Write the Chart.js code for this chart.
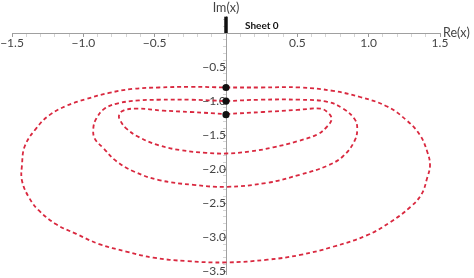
<!DOCTYPE html>
<html>
<head>
<meta charset="utf-8">
<script src="https://cdn.jsdelivr.net/npm/chart.js@4/dist/chart.umd.min.js"></script>
<style>
  html, body { margin: 0; padding: 0; background: #fff; }
  #wrap { width: 474px; height: 278px; position: relative; }
</style>
</head>
<body>
<div id="wrap"><canvas id="c"></canvas></div>
<script>
// ---- data ----
const outerRe = [0, 0.24, 0.52, 0.75, 0.94, 1.13, 1.27, 1.36, 1.41, 1.43, 1.41, 1.37, 1.29, 1.15, 0.99, 0.75, 0.52, 0.29, 0, -0.28, -0.51, -0.70, -0.89, -1.05, -1.19, -1.31, -1.38, -1.43, -1.43, -1.41, -1.33, -1.24, -1.12, -0.98, -0.82, -0.65, -0.47, -0.25, 0];
const outerIm = [-0.80, -0.80, -0.80, -0.85, -0.94, -1.08, -1.29, -1.50, -1.74, -1.94, -2.13, -2.37, -2.56, -2.78, -2.97, -3.14, -3.26, -3.33, -3.37, -3.35, -3.30, -3.21, -3.10, -2.95, -2.81, -2.61, -2.42, -2.17, -1.94, -1.66, -1.40, -1.21, -1.07, -0.97, -0.88, -0.82, -0.80, -0.79, -0.80];

const middleRe = [0, 0.24, 0.52, 0.71, 0.82, 0.90, 0.92, 0.90, 0.82, 0.71, 0.52, 0.29, 0, -0.23, -0.47, -0.65, -0.77, -0.86, -0.92, -0.93, -0.91, -0.85, -0.75, -0.61, -0.47, -0.25, 0];
const middleIm = [-1.00, -0.98, -0.98, -1.01, -1.11, -1.26, -1.40, -1.59, -1.81, -1.95, -2.08, -2.20, -2.26, -2.23, -2.16, -2.03, -1.88, -1.69, -1.55, -1.40, -1.26, -1.11, -1.03, -0.99, -0.98, -0.98, -1.00];

const innerRe = [0, 0.26, 0.50, 0.66, 0.71, 0.74, 0.71, 0.64, 0.50, 0.33, 0.17, 0, -0.14, -0.32, -0.47, -0.61, -0.70, -0.74, -0.75, -0.72, -0.63, -0.44, -0.25, 0];
const innerIm = [-1.19, -1.16, -1.13, -1.11, -1.16, -1.26, -1.37, -1.49, -1.59, -1.68, -1.74, -1.77, -1.76, -1.72, -1.65, -1.53, -1.40, -1.29, -1.21, -1.14, -1.11, -1.14, -1.16, -1.19];

const dotRe = [0, 0, 0];
const dotIm = [-0.80, -1.00, -1.20];

const sheetRe = [0, 0];
const sheetIm = [0, 0.24];

const xTickLabels = [-1.5, -1.0, -0.5, 0.5, 1.0, 1.5];
const yTickLabels = [-0.5, -1.0, -1.5, -2.0, -2.5, -3.0, -3.5];

const xLabel = 'Re(x)';
const yLabel = 'Im(x)';
const sheetLabel = 'Sheet 0';

// ---- helpers ----
const pts = (re, im) => re.map((r, i) => ({ x: r, y: im[i] }));
const fmt = v => (v < 0 ? '\u2212' : '') + Math.abs(v).toFixed(1);
const isMajor = (v, list) => list.some(t => Math.abs(t - v) < 1e-6);
const minorTicks = (lo, hi) => {
  const out = [];
  for (let k = Math.ceil(lo * 10 - 1e-6); k <= Math.floor(hi * 10 + 1e-6); k++) out.push({ value: k / 10 });
  return out;
};
const RED = '#d9283f';
const FONT = 'Lato, "Open Sans", "DejaVu Sans", sans-serif';

const curve = (label, re, im) => ({
  label, data: pts(re, im), showLine: true, borderColor: RED, borderWidth: 1.8,
  borderDash: [4, 3], pointRadius: 0, tension: 0.4, fill: false, order: 3
});

const labelsPlugin = {
  id: 'axisLabels',
  afterDraw(chart) {
    const { ctx, chartArea, scales } = chart;
    const x0 = scales.x.getPixelForValue(0);
    const y0 = scales.y.getPixelForValue(0);
    ctx.save();
    ctx.fillStyle = '#444';
    ctx.font = '12.5px ' + FONT;
    ctx.textBaseline = 'middle';
    ctx.textAlign = 'center';
    ctx.fillText(yLabel, x0, chartArea.top - 8);
    ctx.textAlign = 'left';
    ctx.fillText(xLabel, chartArea.right + 3, y0);
    ctx.fillStyle = '#111';
    ctx.font = 'bold 10px ' + FONT;
    ctx.fillText(sheetLabel, x0 + 19, y0 - 7);
    ctx.restore();
  }
};

const zeroFit = horiz => (s) => {
  if (horiz) s.height = 0; else s.width = 0;
  s.paddingLeft = s.paddingRight = s.paddingTop = s.paddingBottom = 0;
};

new Chart(document.getElementById('c'), {
  type: 'scatter',
  data: {
    datasets: [
      { label: 'poles', data: pts(dotRe, dotIm), pointRadius: 3.6, pointBackgroundColor: '#111', pointBorderColor: '#111', pointBorderWidth: 0, showLine: false, order: 1 },
      { label: 'sheet', data: pts(sheetRe, sheetIm), showLine: true, borderColor: '#111', borderWidth: 3.5, pointRadius: 0, order: 2 },
      curve('outer', outerRe, outerIm),
      curve('middle', middleRe, middleIm),
      curve('inner', innerRe, innerIm)
    ]
  },
  options: {
    responsive: true,
    maintainAspectRatio: false,
    animation: false,
    events: [],
    layout: { padding: { left: 12, right: 34, top: 16, bottom: 0 } },
    plugins: { legend: { display: false }, tooltip: { enabled: false } },
    scales: {
      x: {
        type: 'linear', min: -1.5, max: 1.5, position: { y: 0 },
        afterBuildTicks: s => { s.ticks = minorTicks(-1.5, 1.5); },
        afterFit: zeroFit(true),
        border: { color: '#a0a0a0', width: 1 },
        grid: { drawOnChartArea: false, drawTicks: true, tickLength: 3,
                tickColor: c => isMajor(c.tick.value, xTickLabels) ? '#999' : '#d4d4d4' },
        ticks: { autoSkip: false, maxRotation: 0, padding: 0, color: '#444',
                 font: { family: FONT, size: 12 },
                 callback: v => isMajor(v, xTickLabels) ? fmt(v) : '' }
      },
      y: {
        type: 'linear', min: -3.54, max: 0.25, position: { x: 0 },
        afterBuildTicks: s => { s.ticks = minorTicks(-3.54, 0.25); },
        afterFit: zeroFit(false),
        border: { color: '#a0a0a0', width: 1 },
        grid: { drawOnChartArea: false, drawTicks: true, tickLength: 3,
                tickColor: c => isMajor(c.tick.value, yTickLabels) ? '#999' : '#d4d4d4' },
        ticks: { autoSkip: false, padding: 1, color: '#444',
                 font: { family: FONT, size: 12 },
                 callback: v => isMajor(v, yTickLabels) ? fmt(v) : '' }
      }
    }
  },
  plugins: [labelsPlugin]
});
</script>
</body>
</html>
